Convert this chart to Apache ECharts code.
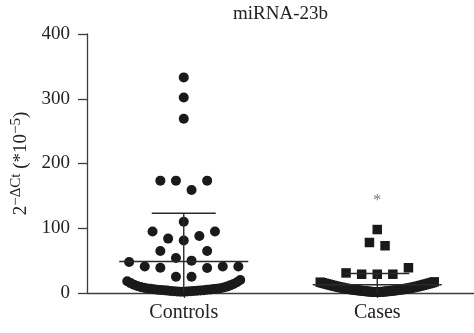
<!DOCTYPE html>
<html>
<head>
<meta charset="utf-8">
<script src="https://cdn.jsdelivr.net/npm/echarts@6/dist/echarts.min.js"></script>
<style>
  html, body { margin: 0; padding: 0; background: #fff; }
  #chart { width: 474px; height: 333px; }
</style>
</head>
<body>
<div id="chart"></div>
<script>
// Group names along the x axis
const categories = ['Controls', 'Cases'];

// Relative expression, 2^-ΔCt (×10^-5), one value per subject
const controlsValues = [
  333, 302, 269, 173.5, 173.5, 173.5, 159, 110, 95, 95, 88, 84, 81,
  65, 65, 54, 50, 48, 41, 41, 41, 39, 38.5, 25, 25,
  1.8, 2.0, 2.2, 2.4, 2.6, 2.8, 3.0, 3.2, 3.4, 3.7, 3.9, 4.2, 4.4, 4.7, 4.9,
  5.2, 5.5, 5.8, 6.1, 6.4, 6.7, 7.1, 7.5, 8.0, 8.5, 9.2, 9.9, 10.8, 11.8,
  12.9, 14.0, 15.3, 16.6, 18.2, 20.0
];
const casesValues = [
  98, 78, 73, 39, 31, 29, 29, 29,
  1.4, 1.5, 1.6, 1.7, 1.8, 1.9, 2.0, 2.2, 2.3, 2.5, 2.6, 2.8, 3.0, 3.2, 3.3,
  3.5, 3.7, 3.9, 4.1, 4.3, 4.5, 4.7, 4.9, 5.1, 5.3, 5.6, 5.8, 6.1, 6.3, 6.6,
  6.8, 7.1, 7.3, 7.7, 7.9, 8.3, 8.5, 8.9, 9.1, 9.6, 9.8, 10.3, 10.5, 11.0,
  11.3, 11.8, 12.1, 12.6, 12.9, 13.4, 13.7, 14.2, 14.5, 15.0, 15.3, 15.8,
  16.2, 16.7, 17.2
];

// Y axis range and tick step
const yMin = 0, yMax = 400, yStep = 100;

// Significance marks per group and the level they sit at
const significance = ['', '*'];
const significanceLevel = 143;

const serif = '"Liberation Serif", "DejaVu Serif", serif';
const ink = '#1a1a1a';
const axisColor = '#3c3c3c';

const GRID = { left: 87, right: 0, top: 34, bottom: 40 };
const chartW = 474;
const gridW = chartW - GRID.left - GRID.right;
const X_SPAN = categories.length * 2;           // hidden value axis: 0 .. 4
const pxPerX = gridW / X_SPAN;

// Prism-style column scatter: values are grouped into rows, each row
// spread symmetrically from the centre outwards in ascending order.
function columnScatter(values, centre, gapPx, maxSpanPx, rowSpan) {
  const sorted = values.slice().sort((a, b) => a - b);
  const rows = [];
  let row = null;
  for (const v of sorted) {
    if (!row || v > row.start + rowSpan) {
      row = { start: v, items: [] };
      rows.push(row);
    }
    row.items.push(v);
  }
  const pts = [];
  for (const r of rows) {
    const n = r.items.length;
    const gap = n > 1 ? Math.min(gapPx, maxSpanPx / (n - 1)) : 0;
    const slots = [];
    for (let j = 0; j < n; j++) slots.push((j - (n - 1) / 2) * gap);
    const even = n % 2 === 0;
    slots.sort((a, b) => {
      const d = Math.round(Math.abs(a) * 1000) - Math.round(Math.abs(b) * 1000);
      if (d !== 0) return d;
      return even ? b - a : a - b;
    });
    r.items.forEach((v, i) => pts.push([centre + slots[i] / pxPerX, v]));
  }
  return pts;
}

function meanSd(values) {
  const n = values.length;
  const m = values.reduce((s, v) => s + v, 0) / n;
  const v = values.reduce((s, x) => s + (x - m) * (x - m), 0) / (n - 1);
  return [m, Math.sqrt(v)];
}

const groups = [controlsValues, casesValues];
const centres = categories.map((_, i) => 2 * i + 1);

const controlsPts = columnScatter(controlsValues, centres[0], 15.6, 113, 23);
const casesPts = columnScatter(casesValues, centres[1], 15.6, 114, 23);

const statsData = groups.map((vals, i) => {
  const [m, sd] = meanSd(vals);
  return [centres[i], m, sd];
});

const chart = echarts.init(document.getElementById('chart'), null, { renderer: 'canvas' });

const option = {
  animation: false,
  backgroundColor: '#ffffff',
  grid: GRID,
  graphic: [{
    type: 'text',
    x: GRID.left + gridW / 2,
    y: 14,
    style: {
      text: 'miRNA-23b',
      font: '19px ' + serif,
      fill: '#222',
      textAlign: 'center',
      textVerticalAlign: 'middle'
    }
  }],
  xAxis: [{
    type: 'category',
    data: categories,
    boundaryGap: true,
    axisLine: { show: true, lineStyle: { color: axisColor, width: 1.3 } },
    axisTick: { show: true, alignWithLabel: true, length: 5, lineStyle: { color: axisColor, width: 1.3 } },
    axisLabel: { fontFamily: serif, fontSize: 20, color: '#222', margin: 10 },
    splitLine: { show: false }
  }, {
    type: 'value',
    min: 0,
    max: X_SPAN,
    show: false,
    splitLine: { show: false }
  }],
  yAxis: {
    type: 'value',
    min: yMin,
    max: yMax,
    interval: yStep,
    axisLine: { show: true, lineStyle: { color: axisColor, width: 1.3 } },
    axisTick: { show: true, length: 9, lineStyle: { color: axisColor, width: 1.3 } },
    axisLabel: { fontFamily: serif, fontSize: 19, color: '#222', margin: 17 },
    splitLine: { show: false },
    name: '{b|2}{s|−ΔCt}{b| (*10}{s|−5}{b|)}',
    nameLocation: 'middle',
    nameRotate: 90,
    nameGap: 54,
    nameTextStyle: {
      rich: {
        b: { fontFamily: serif, fontSize: 19, color: '#222', lineHeight: 22, verticalAlign: 'bottom' },
        s: { fontFamily: serif, fontSize: 15, color: '#222', lineHeight: 15, verticalAlign: 'top' }
      }
    }
  },
  series: [{
    name: categories[0],
    type: 'scatter',
    xAxisIndex: 1,
    symbol: 'circle',
    symbolSize: 10,
    itemStyle: { color: ink, opacity: 1 },
    data: controlsPts,
    z: 2
  }, {
    name: categories[1],
    type: 'scatter',
    xAxisIndex: 1,
    symbol: 'rect',
    symbolSize: 9.5,
    itemStyle: { color: ink, opacity: 1 },
    data: casesPts,
    z: 2
  }, {
    name: 'mean ± SD',
    type: 'custom',
    xAxisIndex: 1,
    data: statsData,
    z: 3,
    renderItem: function (params, api) {
      const x = api.value(0), m = api.value(1), sd = api.value(2);
      const pMean = api.coord([x, m]);
      const pHigh = api.coord([x, m + sd]);
      const pLow = api.coord([x, Math.max(yMin, m - sd)]);
      const style = { stroke: '#2a2a2a', lineWidth: 1.4 };
      return {
        type: 'group',
        children: [
          { type: 'line', shape: { x1: pMean[0] - 64.5, y1: pMean[1], x2: pMean[0] + 64.5, y2: pMean[1] }, style },
          { type: 'line', shape: { x1: pHigh[0] - 32, y1: pHigh[1], x2: pHigh[0] + 32, y2: pHigh[1] }, style },
          { type: 'line', shape: { x1: pHigh[0], y1: pHigh[1], x2: pLow[0], y2: pLow[1] }, style }
        ]
      };
    }
  }, {
    name: 'significance',
    type: 'scatter',
    xAxisIndex: 1,
    symbolSize: 0,
    silent: true,
    data: centres.map((c, i) => ({ value: [c, significanceLevel], label: { show: !!significance[i], formatter: significance[i] } })),
    label: {
      position: 'inside',
      fontFamily: serif,
      fontSize: 16,
      color: '#555'
    }
  }]
};

chart.setOption(option);
</script>
</body>
</html>
